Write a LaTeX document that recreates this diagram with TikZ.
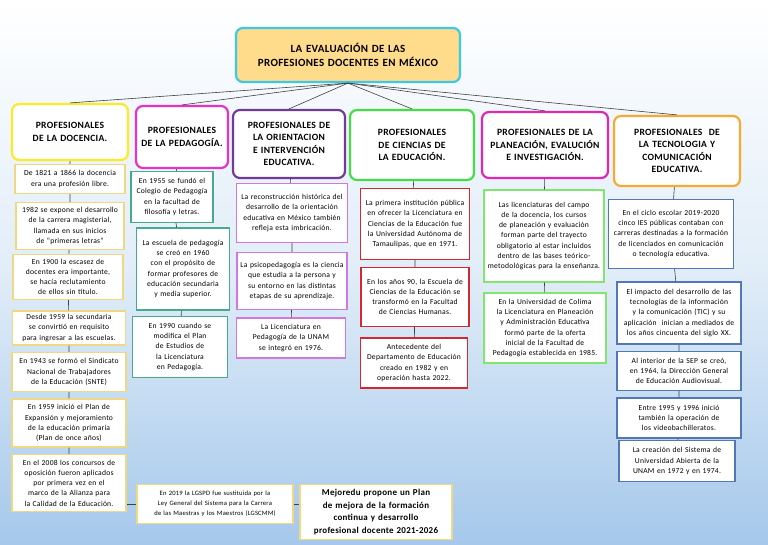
\documentclass[tikz,border=0pt]{standalone}
\usepackage{fontspec}
\setmainfont{Carlito}[LetterSpace=3]
\begin{document}
\begin{tikzpicture}[x=1pt,y=-1pt,
 base/.style={draw,fill=white,align=center,inner sep=2pt,font=\fontsize{7.6}{10.2}\selectfont,line width=1.1pt,execute at begin node={\hyphenpenalty=10000\relax}},
 hd/.style={base,rounded corners=7pt,line width=2.2pt,font=\fontsize{9.6}{12.5}\selectfont\bfseries},
 ln/.style={draw=black!75,line width=0.6pt},
 cy/.style={draw={rgb,255:red,240;green,215;blue,130}},
 ct/.style={draw={rgb,255:red,70;green,170;blue,140}},
 cv/.style={draw={rgb,255:red,210;green,120;blue,220}},
 cr/.style={draw={rgb,255:red,210;green,40;blue,50}},
 cg/.style={draw={rgb,255:red,130;green,230;blue,110}},
 cb/.style={draw={rgb,255:red,80;green,120;blue,180}}]
\shade[top color=white,bottom color={rgb,255:red,165;green,200;blue,235},middle color={rgb,255:red,225;green,237;blue,248}] (0,0) rectangle (768,544);
\useasboundingbox (0,0) rectangle (768,544);
\node[hd,draw={rgb,255:red,60;green,200;blue,230},fill={rgb,255:red,255;green,220;blue,140},minimum width=224pt,minimum height=54pt,text width=216pt,font=\fontsize{11}{14.5}\selectfont\bfseries] (t) at (348,55) {LA EVALUACIÓN DE LAS PROFESIONES DOCENTES EN MÉXICO};
\node[hd,draw={rgb,255:red,250;green,235;blue,40},minimum width=116pt,minimum height=56pt,text width=104pt] (h1) at (70,132) {PROFESIONALES DE LA DOCENCIA.};
\node[hd,draw={rgb,255:red,230;green,50;blue,200},minimum width=92pt,minimum height=62pt,text width=84pt] (h2) at (182,137) {PROFESIONALES DE LA PEDAGOGÍA.};
\node[hd,draw={rgb,255:red,110;green,60;blue,150},minimum width=112pt,minimum height=68pt,text width=106pt] (h3) at (289,144) {PROFESIONALES DE LA ORIENTACION E INTERVENCIÓN EDUCATIVA.};
\node[hd,draw={rgb,255:red,70;green,220;blue,70},minimum width=124pt,minimum height=70pt,text width=104pt] (h4) at (412,145) {PROFESIONALES DE CIENCIAS DE LA EDUCACIÓN.};
\node[hd,draw={rgb,255:red,220;green,40;blue,180},minimum width=126pt,minimum height=66pt,text width=112pt] (h5) at (545,145) {PROFESIONALES DE LA PLANEACIÓN, EVALUCIÓN E INVESTIGACIÓN.};
\node[hd,draw={rgb,255:red,245;green,170;blue,50},minimum width=126pt,minimum height=70pt,text width=118pt] (h6) at (677,151) {PROFESIONALES \ DE LA TECNOLOGIA Y COMUNICACIÓN EDUCATIVA.};
\foreach \h in {h1,h2,h3,h4,h5,h6} \draw[ln] (t.south) -- (\h.north);
% col1
\node[base,cy,minimum width=110pt,minimum height=29pt,text width=106pt] (a1) at (70,179) {De 1821 a 1866 la docencia era una profesión libre.};
\node[base,cy,minimum width=108pt,minimum height=47pt,text width=104pt] (a2) at (70,226) {1982 se expone el desarrollo de la carrera magisterial, llamada en sus inicios de ``primeras letras''};
\node[base,cy,minimum width=110pt,minimum height=45pt,text width=106pt] (a3) at (68,277) {En 1900 la escasez de docentes era importante, se hacía reclutamiento de ellos sin título.};
\node[base,cy,minimum width=113pt,minimum height=34pt,text width=109pt] (a4) at (69,328) {Desde 1959 la secundaria se convirtió en requisito para ingresar a las escuelas.};
\node[base,cy,minimum width=114pt,minimum height=39pt,text width=110pt] (a5) at (69,372) {En 1943 se formó el Sindicato Nacional de Trabajadores de la Educación (SNTE)};
\node[base,cy,minimum width=114pt,minimum height=48pt,text width=110pt] (a6) at (69,423) {En 1959 inició el Plan de Expansión y mejoramiento de la educación primaria (Plan de once años)};
\node[base,cy,minimum width=114pt,minimum height=57pt,text width=108pt] (a7) at (69,483) {En el 2008 los concursos de oposición fueron aplicados por primera vez en el marco de la Alianza para la Calidad de la Educación.};
\draw[ln] (h1)--(a1) (a1)--(a2) (a2)--(a3) (a3)--(a4) (a4)--(a5) (a5)--(a6) (a6)--(a7);
% col2
\node[base,ct,minimum width=82pt,minimum height=51pt,text width=78pt] (b1) at (172,197) {En 1955 se fundó el Colegio de Pedagogía en la facultad de filosofía y letras.};
\node[base,ct,minimum width=93pt,minimum height=82pt,text width=89pt] (b2) at (183,269) {La escuela de pedagogía se creó en 1960 con el propósito de formar profesores de educación secundaria y media superior.};
\node[base,ct,minimum width=95pt,minimum height=61pt,text width=84pt] (b3) at (180,347) {En 1990 cuando se modifica el Plan de Estudios de la Licenciatura en Pedagogía.};
\draw[ln] (h2)--(b1) (b1)--(b2) (b2)--(b3);
% col3
\node[base,cv,minimum width=111pt,minimum height=59pt,text width=107pt] (c1) at (292,213) {La reconstrucción histórica del desarrollo de la orientación educativa en México también refleja esta imbricación.};
\node[base,cv,minimum width=110pt,minimum height=57pt,text width=104pt] (c2) at (292,281) {La psicopedagogía es la ciencia que estudia a la persona y su entorno en las distintas etapas de su aprendizaje.};
\node[base,cv,minimum width=109pt,minimum height=40pt,text width=105pt] (c3) at (291,338) {La Licenciatura en Pedagogía de la UNAM se integró en 1976.};
\draw[ln] (h3)--(c1) (c1)--(c2) (c2)--(c3);
% col4
\node[base,cr,minimum width=109pt,minimum height=71pt,text width=105pt] (d1) at (415,224) {La primera institución pública en ofrecer la Licenciatura en Ciencias de la Educación fue la Universidad Autónoma de Tamaulipas, que en 1971.};
\node[base,cr,minimum width=108pt,minimum height=59pt,text width=104pt] (d2) at (415,297) {En los años 90, la Escuela de Ciencias de la Educación se transformó en la Facultad de Ciencias Humanas.};
\node[base,cr,minimum width=107pt,minimum height=50pt,text width=103pt] (d3) at (414,363) {Antecedente del Departamento de Educación creado en 1982 y en operación hasta 2022.};
\draw[ln] (h4)--(d1) (d1)--(d2) (d2)--(d3);
% col5
\node[base,cg,minimum width=120pt,minimum height=92pt,text width=114pt] (e1) at (544,236) {Las licenciaturas del campo de la docencia, los cursos de planeación y evaluación forman parte del trayecto obligatorio al estar incluidos dentro de las bases teórico-metodológicas para la enseñanza.};
\node[base,cg,minimum width=122pt,minimum height=70pt,text width=118pt] (e2) at (545,328) {En la Universidad de Colima la Licenciatura en Planeación y Administración Educativa formó parte de la oferta inicial de la Facultad de Pedagogía establecida en 1985.};
\draw[ln] (h5)--(e1) (e1)--(e2);
% col6
\node[base,cb,minimum width=125pt,minimum height=69pt,text width=119pt] (f1) at (671,234) {En el ciclo escolar 2019-2020 cinco IES públicas contaban con carreras destinadas a la formación de licenciados en comunicación o tecnología educativa.};
\node[base,cb,minimum width=124pt,minimum height=62pt,text width=120pt] (f2) at (679,313) {El impacto del desarrollo de las tecnologías de la información y la comunicación (TIC) y su aplicación \ inician a mediados de los años cincuenta del siglo XX.};
\node[base,cb,minimum width=124pt,minimum height=39pt,text width=120pt] (f3) at (679,371) {Al interior de la SEP se creó, en 1964, la Dirección General de Educación Audiovisual.};
\node[base,cb,minimum width=124pt,minimum height=40pt,text width=118pt] (f4) at (679,418) {Entre 1995 y 1996 inició también la operación de los videobachilleratos.};
\node[base,cb,minimum width=116pt,minimum height=41pt,text width=112pt] (f5) at (677,461) {La creación del Sistema de Universidad Abierta de la UNAM en 1972 y en 1974.};
\draw[ln] (h6)--(f1) (f1)--(f2) (f2)--(f3) (f3)--(f4) (f4)--(f5);
% bottom
\node[base,cy,minimum width=155pt,minimum height=39pt,text width=152pt,font=\fontsize{6.6}{10}\selectfont] (g1) at (215,504) {En 2019 la LGSPD fue sustituida por la Ley General del Sistema para la Carrera de las Maestras y los Maestros (LGSCMM)};
\node[base,cy,minimum width=151pt,minimum height=55pt,text width=148pt,font=\fontsize{9}{12.5}\selectfont\bfseries] (g2) at (376,512) {Mejoredu propone un Plan de mejora de la formación continua y desarrollo profesional docente 2021-2026};
\draw[ln] (a7.east|-g1) -- (g1.west) (g1.east) -- (g1.east-|g2.west);
\end{tikzpicture}
\end{document}
